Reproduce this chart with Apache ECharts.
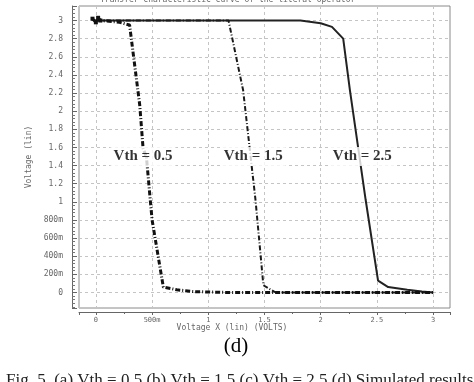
<!DOCTYPE html>
<html>
<head>
<meta charset="utf-8">
<script src="https://cdn.jsdelivr.net/npm/echarts@6/dist/echarts.min.js"></script>
<style>
html,body{margin:0;padding:0;background:#fff;}
#c{width:474px;height:382px;}
</style>
</head>
<body>
<div id="c"></div>
<script>
// X ticks (volts) and their labels
var xTickValues = [0, 0.5, 1, 1.5, 2, 2.5, 3];
var xTickLabels = ['0', '500m', '1', '1.5', '2', '2.5', '3'];
// Y ticks and labels
var yTickValues = [0, 0.2, 0.4, 0.6, 0.8, 1, 1.2, 1.4, 1.6, 1.8, 2, 2.2, 2.4, 2.6, 2.8, 3];
var yTickLabels = ['0', '200m', '400m', '600m', '800m', '1', '1.2', '1.4', '1.6', '1.8', '2', '2.2', '2.4', '2.6', '2.8', '3'];

// Vth = 0.5 curve
var vth05X = [-0.03, 0.0, 0.02, 0.04, 0.21, 0.30, 0.39, 0.42, 0.45, 0.50, 0.60, 0.72, 0.87, 1.18, 1.6, 2.0, 2.5, 3.0];
var vth05Y = [3.02, 2.98, 3.03, 3.0, 2.98, 2.95, 2.07, 1.59, 1.49, 0.80, 0.06, 0.03, 0.01, 0.0, 0.0, 0.0, 0.0, 0.0];
// Vth = 1.5 curve
var vth15X = [0.0, 0.5, 1.0, 1.18, 1.19, 1.31, 1.42, 1.49, 1.6, 2.0, 2.5, 3.0];
var vth15Y = [3.0, 3.0, 3.0, 3.0, 2.98, 2.23, 1.02, 0.08, 0.0, 0.0, 0.0, 0.0];
// Vth = 2.5 curve
var vth25X = [0.0, 0.5, 1.0, 1.5, 1.64, 1.82, 2.0, 2.10, 2.20, 2.26, 2.40, 2.51, 2.60, 2.77, 2.9, 3.0];
var vth25Y = [3.0, 3.0, 3.0, 3.0, 3.0, 3.0, 2.97, 2.93, 2.80, 2.23, 1.02, 0.13, 0.06, 0.03, 0.01, 0.0];

// Curve labels
var labelTexts = ['Vth = 0.5', 'Vth = 1.5', 'Vth = 2.5'];
var labelX = [0.42, 1.40, 2.37];
var labelY = [1.5, 1.5, 1.5];

function pairs(xs, ys, markCount) {
  return xs.map(function (x, i) {
    var item = { value: [x, ys[i]] };
    if (i < markCount) { item.symbol = 'rect'; item.symbolSize = 4; }
    return item;
  });
}
function fmt(values, labels) {
  return function (v) {
    for (var i = 0; i < values.length; i++) {
      if (Math.abs(values[i] - v) < 1e-6) return labels[i];
    }
    return '';
  };
}

var mono = 'DejaVu Sans Mono';
var chart = echarts.init(document.getElementById('c'), null, { renderer: 'canvas' });
chart.setOption({
  animation: false,
  backgroundColor: '#fff',
  grid: { left: 79, right: 24, top: 6, bottom: 74, show: true, borderColor: '#8a8a8a', borderWidth: 1, backgroundColor: 'transparent' },
  xAxis: {
    type: 'value', min: -0.15, max: 3.15, splitNumber: 6, offset: 4,
    axisLine: { show: true, onZero: false, lineStyle: { color: '#666', width: 1 } },
    axisTick: { show: true, inside: false, length: 3, lineStyle: { color: '#666' } },
    minorTick: { show: true, splitNumber: 2, length: 2, lineStyle: { color: '#666' } },
    splitLine: { show: true, lineStyle: { color: '#c4c4c4', type: [3, 3], width: 1 } },
    axisLabel: { customValues: xTickValues, formatter: fmt(xTickValues, xTickLabels), fontFamily: mono, fontSize: 7, color: '#666', margin: 5 }
  },
  yAxis: {
    type: 'value', min: -0.171, max: 3.16, splitNumber: 16, offset: 7,
    axisLine: { show: true, onZero: false, lineStyle: { color: '#666', width: 1 } },
    axisTick: { show: true, inside: true, length: 5, lineStyle: { color: '#666' } },
    minorTick: { show: true, splitNumber: 5, length: 3, lineStyle: { color: '#777' } },
    splitLine: { show: true, lineStyle: { color: '#c4c4c4', type: [3, 3], width: 1 } },
    axisLabel: { customValues: yTickValues, formatter: fmt(yTickValues, yTickLabels), fontFamily: mono, fontSize: 8, color: '#666', margin: 9 }
  },
  series: [
    {
      type: 'line', name: 'Vth = 2.5', data: pairs(vth25X, vth25Y, 0), symbol: 'none', showSymbol: false,
      lineStyle: { color: '#222', width: 2 }, clip: false, z: 3
    },
    {
      type: 'line', name: 'Vth = 1.5', data: pairs(vth15X, vth15Y, 0), symbol: 'none', showSymbol: false,
      lineStyle: { color: '#1a1a1a', width: 2, type: [5, 2, 1, 2] }, clip: false, z: 4
    },
    {
      type: 'line', name: 'Vth = 0.5', data: pairs(vth05X, vth05Y, 4), symbol: 'none', showSymbol: true,
      itemStyle: { color: '#111' },
      lineStyle: { color: '#111', width: 3, type: [5, 2, 1, 2] }, clip: false, z: 5
    },
    {
      type: 'scatter', symbol: 'circle', symbolSize: 2, silent: true, z: 10, zlevel: 1,
      itemStyle: { color: 'rgba(255,255,255,0)' },
      data: labelX.map(function (x, i) { return { value: [x, labelY[i]], name: labelTexts[i] }; }),
      label: {
        show: true, position: 'inside', formatter: function (p) { return p.name; }, color: '#000',
        fontFamily: 'Liberation Serif', fontWeight: 'bold', fontSize: 15,
        backgroundColor: '#fff', padding: [2, 3]
      },
      labelLayout: { hideOverlap: false }
    }
  ],
  graphic: [
    { type: 'text', x: 100, y: -4, style: { text: 'Transfer characteristic curve of the literal operator', fontFamily: mono, fontSize: 8, fill: '#666' } },
    { type: 'text', x: 372, y: -4, style: { text: '***', fontFamily: mono, fontSize: 8, fill: '#444' } },
    { type: 'text', x: 29, y: 157, rotation: Math.PI / 2, style: { text: 'Voltage (lin)', fontFamily: mono, fontSize: 8, fill: '#666', textAlign: 'center', textVerticalAlign: 'middle' } },
    { type: 'text', x: 232, y: 328, style: { text: 'Voltage X (lin) (VOLTS)', fontFamily: mono, fontSize: 8, fill: '#666', textAlign: 'center', textVerticalAlign: 'middle' } },
    { type: 'text', x: 236, y: 346, style: { text: '(d)', fontFamily: 'Liberation Serif', fontSize: 21, fill: '#000', textAlign: 'center', textVerticalAlign: 'middle' } },
    { type: 'text', x: 6, y: 372, style: { text: 'Fig. 5. (a) Vth = 0.5 (b) Vth = 1.5 (c) Vth = 2.5 (d) Simulated results', fontFamily: 'Liberation Serif', fontSize: 17, fill: '#222' } }
  ]
});
</script>
</body>
</html>
